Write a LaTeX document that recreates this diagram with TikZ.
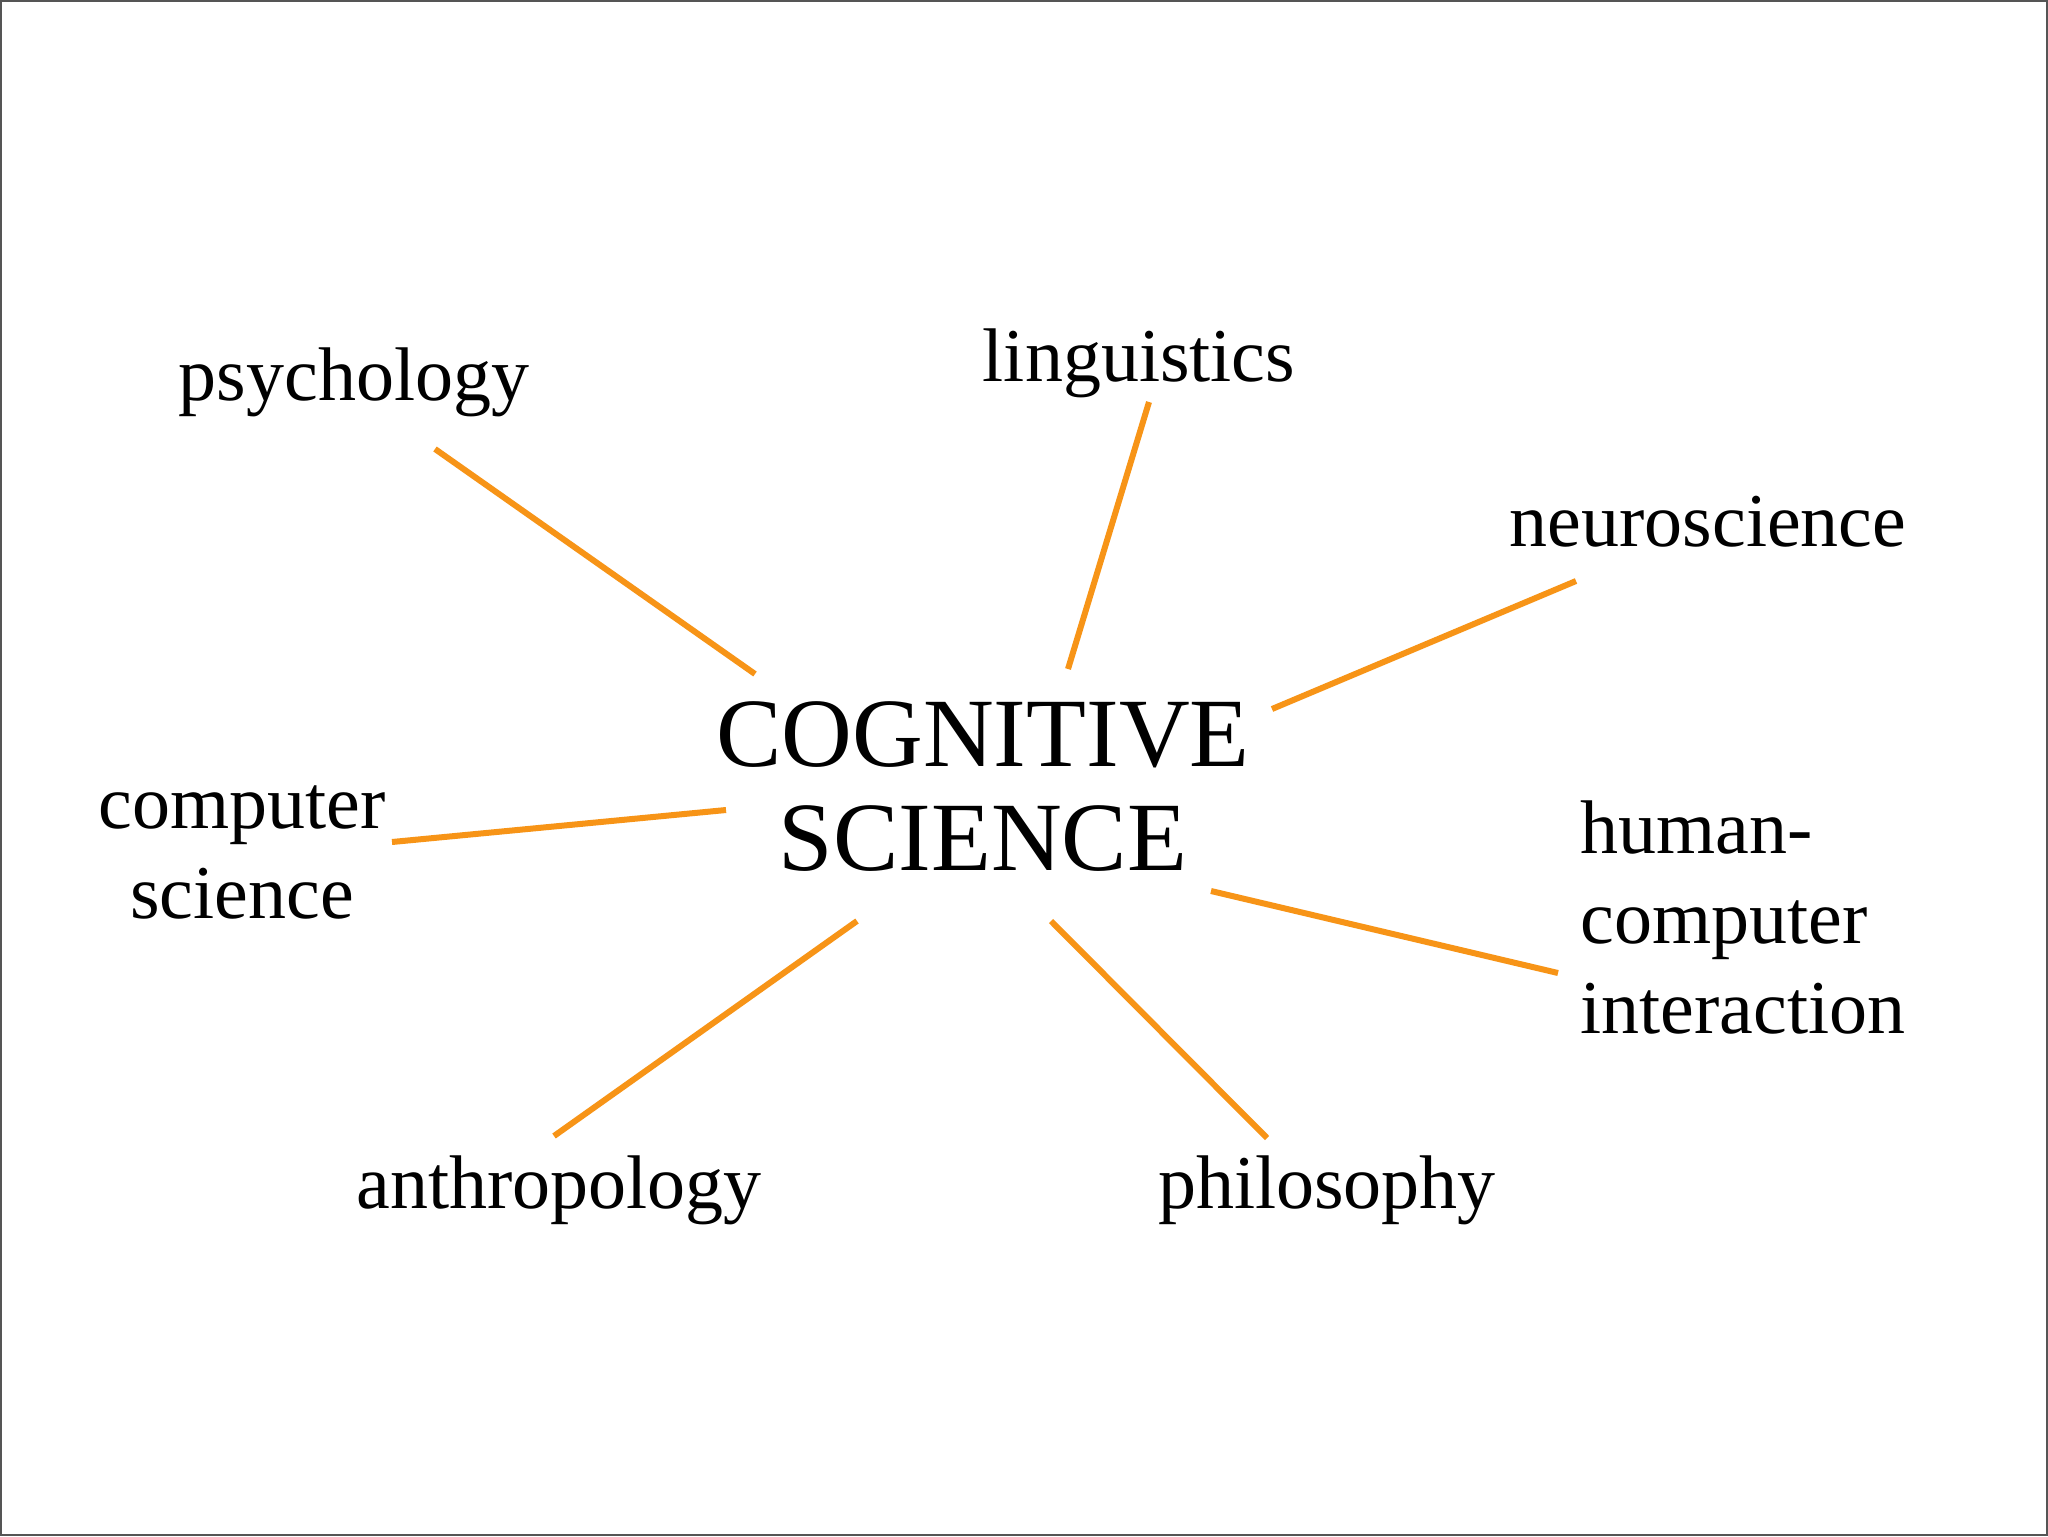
\documentclass[tikz,border=0pt]{standalone}
\usepackage{fontspec}
\setmainfont{Liberation Serif}
\newlength{\du}
\setlength{\du}{0.5pt}
\definecolor{linkcolor}{rgb}{0.968627, 0.580392, 0.090196}
\definecolor{framecolor}{rgb}{0.333333, 0.333333, 0.333333}
\tikzset{
  field/.style={inner sep=0pt, align=center, font={\fontsize{38}{45}\selectfont}},
  topic/.style={inner sep=0pt, align=center, font={\fontsize{49}{52}\selectfont}},
  link/.style={draw=linkcolor, line width=6\du},
}
\begin{document}
\begin{tikzpicture}
\pgftransformxscale{1.000000}
\pgftransformyscale{-1.000000}
\useasboundingbox (0\du,0\du) rectangle (2048\du,1536\du);
\fill[white] (0\du,0\du) rectangle (2048\du,1536\du);
\draw[framecolor, line width=2\du] (1\du,1\du) rectangle (2047\du,1535\du);
% centre
\node[topic] (cogsci) at (983\du,787\du){COGNITIVE\\SCIENCE};
% fields round it
\node[field, anchor=base] (psychology) at (354\du,400\du){psychology};
\node[field, anchor=base] (linguistics) at (1139\du,381\du){linguistics};
\node[field, anchor=base] (neuroscience) at (1708\du,546\du){neuroscience};
\node[field] (compsci) at (242\du,852\du){computer\\science};
\node[field, anchor=west, align=left] (hci) at (1580\du,917\du){human-\\computer\\interaction};
\node[field, anchor=base] (anthropology) at (559\du,1208\du){anthropology};
\node[field, anchor=base] (philosophy) at (1327\du,1208\du){philosophy};
% line ends
\coordinate (psychology-end) at (435\du,449\du);
\coordinate (cogsci-psy) at (755\du,674\du);
\coordinate (linguistics-end) at (1149\du,402\du);
\coordinate (cogsci-lin) at (1068\du,669\du);
\coordinate (neuroscience-end) at (1576\du,581\du);
\coordinate (cogsci-neu) at (1272\du,709\du);
\coordinate (compsci-end) at (392\du,842\du);
\coordinate (cogsci-comp) at (726\du,810\du);
\coordinate (hci-end) at (1558\du,973\du);
\coordinate (cogsci-hci) at (1211\du,891\du);
\coordinate (anthropology-end) at (554\du,1136\du);
\coordinate (cogsci-anth) at (857\du,921\du);
\coordinate (philosophy-end) at (1267\du,1138\du);
\coordinate (cogsci-phil) at (1051\du,921\du);
% links
\draw[link] (psychology-end)--(cogsci-psy);
\draw[link] (linguistics-end)--(cogsci-lin);
\draw[link] (neuroscience-end)--(cogsci-neu);
\draw[link] (compsci-end)--(cogsci-comp);
\draw[link] (hci-end)--(cogsci-hci);
\draw[link] (anthropology-end)--(cogsci-anth);
\draw[link] (philosophy-end)--(cogsci-phil);
\end{tikzpicture}
\end{document}
